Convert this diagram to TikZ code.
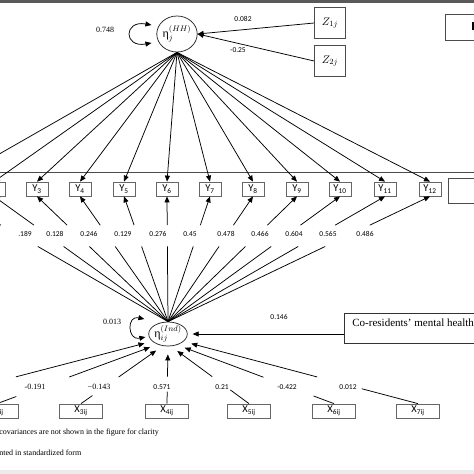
\documentclass[tikz,border=0pt]{standalone}
\usepackage{fontspec}
\setmainfont{Liberation Serif}
\setsansfont{Carlito}
\usetikzlibrary{arrows.meta,shapes.geometric}
\tikzset{
	arr/.style={-{Triangle[length=6pt,width=5pt]}},
	selfarr/.style={{Triangle[length=6pt,width=5pt]}-{Triangle[length=6pt,width=5pt]}},
	ybox/.style={draw=black!60, minimum width=22pt, minimum height=14pt, inner sep=0pt, font=\sffamily\fontsize{10.5}{10}\selectfont},
	xbox/.style={draw=black!60, minimum width=43pt, minimum height=14pt, inner sep=0pt, font=\sffamily\fontsize{10.5}{10}\selectfont},
	zbox/.style={draw=black!70, minimum width=31pt, minimum height=31pt, inner sep=0pt, font=\fontsize{11}{11}\selectfont},
	latent/.style={draw=black!85, ellipse, inner sep=0pt, font=\fontsize{12}{12}\selectfont},
	coef/.style={font=\sffamily\fontsize{7.5}{8}\selectfont, inner sep=0pt},
	coefr/.style={font=\fontsize{8}{9}\selectfont, inner sep=0pt},
	note/.style={anchor=west, inner sep=0pt, font=\fontsize{8}{9}\selectfont}
}
\begin{document}
\begin{tikzpicture}[x=1pt,y=-1pt,line width=0.75pt]
	\useasboundingbox (0,0) rectangle (474,474);
	\clip (0,0) rectangle (474,474);
	\fill[black!65] (0,0) rectangle (474,2.5);
	\fill[black!8] (0,470) rectangle (474,474);

	\node[latent, minimum width=40pt, minimum height=36pt] (etaH) at (177,34) {η$_j^{(HH)}$};
	\node[latent, minimum width=36pt, minimum height=24pt] (etaI) at (168,334) {η$_{ij}^{(Ind)}$};
	\node[zbox] (Z1) at (330,23) {$Z_{1j}$};
	\node[zbox] (Z2) at (330,61) {$Z_{2j}$};
	\node[draw=black!70, anchor=north west, minimum width=60pt, minimum height=26pt] (hbox) at (445,14) {};
	\fill (472,22) rectangle (476,30);
	\node[draw=black!70, anchor=north west, minimum width=60pt, minimum height=25pt] (ybig) at (448,178) {};
	\node[draw=black!80, anchor=north west, minimum width=150pt, minimum height=30pt] (co) at (344,313) {};
	\node[anchor=west, inner sep=0pt, font=\fontsize{11}{12}\selectfont] (cotext) at (352,323) {Co-residents’ mental health};

	\draw[black!70] (0,172) -- (474,172);

	\node[ybox] (Y1) at (-49,189) {};
	\node[ybox] (Y2) at (-6,189) {};
	\foreach \i/\x in {3/37,4/80,5/124,6/167,7/210,8/253,9/297,10/340,11/385,12/430}
		\node[ybox] (Y\i) at (\x,189) {Y\textsubscript{\i}};
	\node[xbox] (X1) at (-87,411) {};
	\foreach \i/\x in {2/-3,3/81,4/167,5/249,6/334,7/418}
		\node[xbox] (X\i) at (\x,411) {X\textsubscript{\i ij}};

	\foreach \i in {1,...,12}
		\draw[arr] (etaH.south) -- (Y\i.north);
	\foreach \i in {1,...,12} {
		\path (etaI.north) -- (Y\i.south) coordinate[pos=.6] (a\i) coordinate[pos=.77] (b\i);
		\draw (etaI.north) -- (a\i);
		\draw[arr] (b\i) -- (Y\i.south);
	}
	\foreach \i/\a/\p/\q in {1/205/.2/.43,2/225/.12/.45,3/246/.14/.46,4/270/.21/.47,5/283/.24/.47,6/310/.13/.45,7/334/.24/.43} {
		\path (X\i.north) -- (etaI.\a) coordinate[pos=\p] (c\i) coordinate[pos=\q] (d\i);
		\draw (X\i.north) -- (c\i);
		\draw[arr, shorten >=8pt] (d\i) -- (etaI.\a);
	}

	\draw[arr] (Z1.west) -- (etaH.east);
	\draw[arr] (Z2.west) -- (etaH.east);
	\draw[arr, shorten >=5pt] (co.west |- etaI.east) -- (etaI.east);
	\draw[selfarr] ([shift={(-5,-9)}]etaH.west) .. controls +(-28,-5) and +(-28,5) .. ([shift={(-5,9)}]etaH.west);
	\draw[selfarr] ([shift={(-4,-15)}]etaI.west) .. controls +(-18,-4) and +(-18,4) .. ([shift={(-3,3)}]etaI.west);

	\node[coefr] (vH) at (105,30) {0.748};
	\node[coefr] (vI) at (112,322) {0.013};
	\node[coef] (gz1) at (243,19) {0.082};
	\node[coef] (gz2) at (238,50) {-0.25};
	\node[coef] (gco) at (279,317) {0.146};
	\foreach \x/\t [count=\k] in {25/.189,55/0.128,89/0.246,123/0.129,158/0.276,190/0.45,226/0.478,260/0.466,294/0.604,328/0.565,365/0.486}
		\node[coef] (ly\k) at (\x,234) {\t};
	\node[coefr] (lx2) at (35,387) {-0.191};
	\node[coefr] (lx3) at (99,387) {−0.143};
	\node[coef] (lx4) at (162,387) {0.571};
	\node[coef] (lx5) at (222,387) {0.21};
	\node[coef] (lx6) at (287,387) {-0.422};
	\node[coef] (lx7) at (348,387) {0.012};

	\node[note] (n1) at (-1,433) {covariances are not shown in the figure for clarity};
	\node[note] (n2) at (-1,453) {nted in standardized form};
\end{tikzpicture}
\end{document}
